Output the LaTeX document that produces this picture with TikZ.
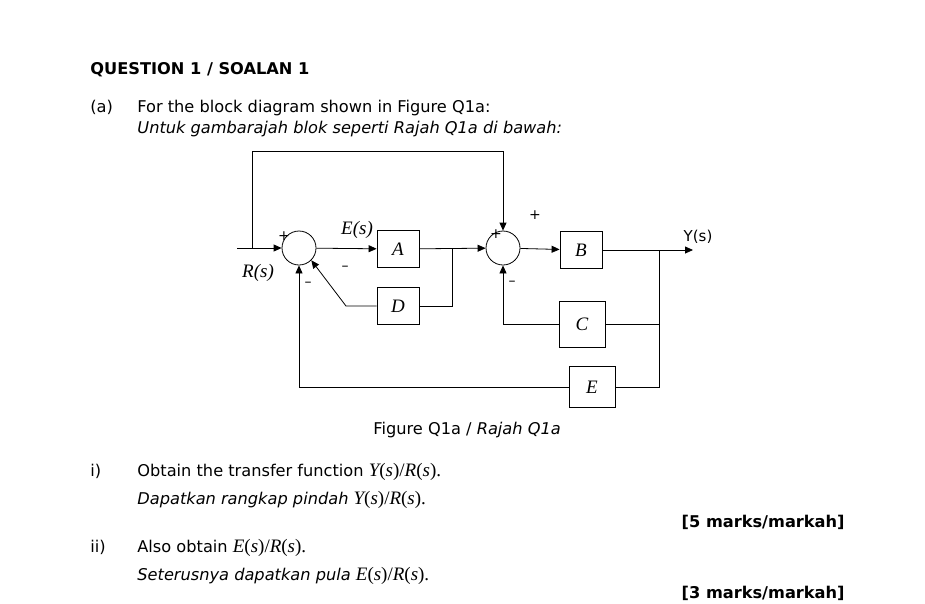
\documentclass[tikz,border=0pt]{standalone}
\usepackage{fontspec}
\setmainfont{DejaVu Sans}
\newfontfamily\tms{Liberation Serif}
\usetikzlibrary{arrows.meta}
\newcommand{\mth}[1]{{\tms\fontsize{19}{19}\selectfont #1}}
\begin{document}
\begin{tikzpicture}[x=1pt,y=-1pt,
  blk/.style={draw,minimum width=42pt,minimum height=37pt,inner sep=0pt,font=\tms\itshape\fontsize{19}{19}\selectfont},
  sum/.style={draw,circle,minimum size=34pt,inner sep=0pt},
  ar/.style={-{Triangle[length=8pt,width=7pt]}},
  lab/.style={font=\tms\itshape\fontsize{19}{19}\selectfont,inner sep=0pt},
  sg/.style={font=\fontsize{14}{14}\selectfont,inner sep=0pt},
  txt/.style={anchor=base west,inner sep=0pt,font=\fontsize{16.2}{18}\selectfont},
  itx/.style={txt,font=\fontsize{16.2}{18}\selectfont\itshape},
  line width=0.8pt]
\useasboundingbox (0,0) rectangle (925,603);
% texts
\node[txt,font=\fontsize{16.2}{18}\selectfont\bfseries] (q) at (90,74) {QUESTION 1 / SOALAN 1};
\node[txt] (a) at (90,112) {(a)};
\node[txt] (a1) at (137,112) {For the block diagram shown in Figure Q1a:};
\node[itx] (a2) at (137,133) {Untuk gambarajah blok seperti Rajah Q1a di bawah:};
\node[txt] (cap) at (373,434) {Figure Q1a / \textit{Rajah Q1a}};
\node[txt] (i) at (90,476) {i)};
\node[txt] (i1) at (137,476) {Obtain the transfer function \mth{\itshape Y\upshape(\itshape s\upshape)/\itshape R\upshape(\itshape s\upshape).}};
\node[itx] (i2) at (137,504) {Dapatkan rangkap pindah \mth{\itshape Y\upshape(\itshape s\upshape)/\itshape R\upshape(\itshape s\upshape).}};
\node[txt,anchor=base east,font=\fontsize{16.2}{18}\selectfont\bfseries] (m1) at (845,527) {[5 marks/markah]};
\node[txt] (ii) at (90,552) {ii)};
\node[txt] (ii1) at (137,552) {Also obtain \mth{\itshape E\upshape(\itshape s\upshape)/\itshape R\upshape(\itshape s\upshape).}};
\node[itx] (ii2) at (137,580) {Seterusnya dapatkan pula \mth{\itshape E\upshape(\itshape s\upshape)/\itshape R\upshape(\itshape s\upshape).}};
\node[txt,anchor=base east,font=\fontsize{16.2}{18}\selectfont\bfseries] (m2) at (845,598) {[3 marks/markah]};
% diagram
\node[sum] (s1) at (299,248) {};
\node[sum] (s2) at (503,248) {};
\node[blk] (A) at (398,249) {A};
\node[blk] (D) at (398,306) {D};
\node[blk] (B) at (581,250) {B};
\node[blk,minimum width=46pt,minimum height=46pt] (C) at (582,324) {C};
\node[blk,minimum width=46pt,minimum height=41pt] (E) at (592,387) {E};
\coordinate (in) at (237,248);
\coordinate (br) at (252,248);
\coordinate (ba) at (452,248);
\coordinate (dl) at (346,306);
\coordinate (yo) at (659,250);
\coordinate (out) at (693,250);
\draw[ar] (in) -- (s1);
\draw[ar] (br) |- (503,151) -- (s2.north);
\draw[ar] (s1) -- (A);
\draw[ar] (A) -- (s2);
\draw (ba) |- (D.east);
\draw[ar] (D.west) -- (dl) -- (s1.-45);
\draw[ar] (s2) -- (B);
\draw[ar] (B) -- (out);
\draw (yo) |- (E.east);
\draw (yo |- C.east) -- (C.east);
\draw[ar] (C.west) -| (s2.south);
\draw[ar] (E.west) -| (s1.south);
\node[sg] (p1) at (284,236) {+};
\node[sg] (p2) at (496,234) {+};
\node[sg] (p3) at (535,215) {+};
\node[sg] (n1) at (345,268) {--};
\node[sg] (n2) at (308,284) {--};
\node[sg] (n3) at (512,283) {--};
\node[lab] (Es) at (357,230) {E(s)};
\node[lab] (Rs) at (258,273) {R(s)};
\node[lab,font=\fontsize{15}{15}\selectfont] (Ys) at (698,237) {Y(s)};
\end{tikzpicture}
\end{document}
